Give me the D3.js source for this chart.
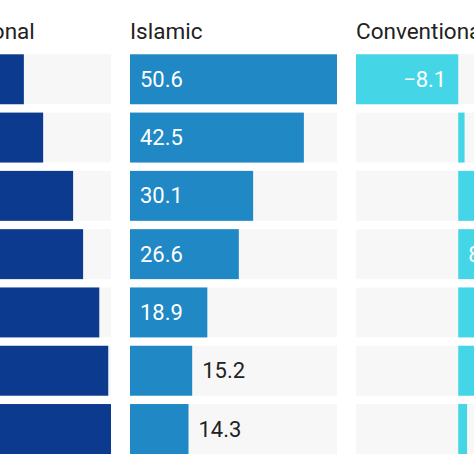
<!DOCTYPE html>
<html>
<head>
<meta charset="utf-8">
<script src="https://cdn.jsdelivr.net/npm/d3@7"></script>
<style>
  body { margin: 0; background: #fff; }
  text { font-family: Roboto, "Noto Sans", sans-serif; }
</style>
</head>
<body>
<script>
// rows of the chart (labels sit off the visible area)
var rows = ["r1", "r2", "r3", "r4", "r5", "r6", "r7"]

var conventional = [34.8, 40.4, 49.1, 52.0, 56.7, 59.3, 60.1]
var islamic = [50.6, 42.5, 30.1, 26.6, 18.9, 15.2, 14.3]
var difference = [-8.1, 0.5, 3.4, 8.3, 4.2, 3.9, 0.7]

var titles = ["Conventional", "Islamic", "Conventional vs Islamic"]
var colors = ["#0b3a8e", "#1f88c5", "#44d6e6"]
var series = [conventional, islamic, difference]

var W = 474, H = 474
var panelW = 207
var gap = 19
var firstX = -96

var svg = d3.select("body").append("svg")
  .attr("width", W)
  .attr("height", H)

var y = d3.scaleBand()
  .domain(rows)
  .range([54.3, 454])
  .paddingInner(0.143)
  .paddingOuter(0)

series.forEach(function(values, p) {

  var x0 = firstX + p * (panelW + gap)
  var lo = Math.min(0, d3.min(values))
  var hi = Math.max(0, d3.max(values))

  var x = d3.scaleLinear()
    .domain([lo, hi])
    .range([x0, x0 + panelW])

  var g = svg.append("g")

  /* TITRE */
  g.append("text")
    .attr("x", x0)
    .attr("y", 38.8)
    .attr("font-size", "22.5px")
    .attr("fill", "#222")
    .text(titles[p])

  /* FOND */
  g.selectAll("rect.track")
    .data(rows)
    .enter()
    .append("rect")
    .attr("class", "track")
    .attr("x", x0)
    .attr("y", d => y(d))
    .attr("width", panelW)
    .attr("height", y.bandwidth())
    .attr("fill", "#f7f7f7")

  /* BARRES */
  g.selectAll("rect.bar")
    .data(values)
    .enter()
    .append("rect")
    .attr("class", "bar")
    .attr("x", d => x(Math.min(0, d)))
    .attr("y", (d, i) => y(rows[i]))
    .attr("width", d => Math.abs(x(d) - x(0)))
    .attr("height", y.bandwidth())
    .attr("fill", colors[p])

  /* ÉTIQUETTES */
  g.selectAll("text.value")
    .data(values)
    .enter()
    .append("text")
    .attr("class", "value")
    .attr("font-size", "22px")
    .attr("y", (d, i) => y(rows[i]) + y.bandwidth() / 2 + 7.5)
    .each(function(d) {
      var w = Math.abs(x(d) - x(0))
      var inside = w > 70
      var t = d3.select(this)
      if (d < 0) {
        t.attr("x", inside ? x(0) - 12 : x(d) - 10)
          .attr("text-anchor", "end")
      } else {
        t.attr("x", inside ? x(0) + 10 : x(d) + 10)
          .attr("text-anchor", "start")
      }
      t.attr("fill", inside ? "#fff" : "#222")
    })
    .text(d => d3.format(".1f")(d).replace("-", "\u2212"))
})
</script>
</body>
</html>
